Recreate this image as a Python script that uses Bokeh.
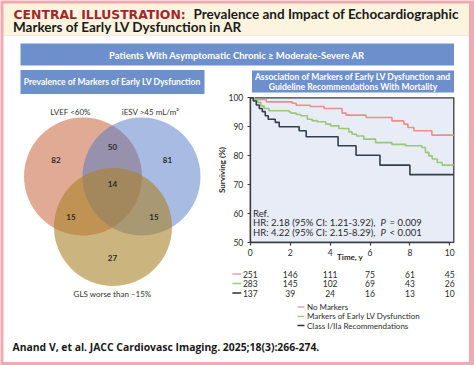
from bokeh.plotting import figure
from bokeh.models import Range1d, LinearAxis, FixedTicker, ColumnDataSource
from bokeh.core.properties import value
from bokeh.embed import file_html
from bokeh.resources import INLINE

# ---------------- data ----------------
title_red = "CENTRAL ILLUSTRATION:"
title_rest_1 = "Prevalence and Impact of Echocardiographic"
title_rest_2 = "Markers of Early LV Dysfunction in AR"
banner_text = "Patients With Asymptomatic Chronic \u2265 Moderate-Severe AR"
left_title = "Prevalence of Markers of Early LV Dysfunction"
right_title = ["Association of Markers of Early LV Dysfunction and",
               "Guideline Recommendations With Mortality"]
footer_text = "Anand V, et al. JACC Cardiovasc Imaging. 2025;18(3):266-274."

venn_labels = ["LVEF <60%", "iESV >45 mL/m\u00b2", "GLS worse than \u201315%"]
venn_only = [82, 81, 27]          # LVEF only, iESV only, GLS only
venn_pairs = [50, 15, 15]         # LVEF&iESV, LVEF&GLS, iESV&GLS
venn_all = [14]

km_groups = ["No Markers", "Markers of Early LV Dysfunction", "Class I/IIa Recommendations"]
t_none = [0, 0.2, 0.8, 2.1, 2.3, 3.0, 3.7, 4.6, 4.8, 5.8, 7.1, 7.7, 7.9, 8.2, 9.1, 10.2]
s_none = [100, 99.4, 98.6, 98.1, 97.4, 97.0, 96.3, 94.7, 94.0, 93.2, 92.0, 90.9, 89.7, 88.6, 87.1, 87.1]
t_markers = [0, 0.2, 0.36, 0.53, 0.69, 0.94, 1.94, 2.03, 2.3, 2.53, 2.86, 3.1, 3.36, 3.78, 4.03,
             4.44, 4.94, 5.1, 5.33, 5.69, 6.28, 7.1, 7.78, 8.6, 8.78, 8.95, 9.12, 9.37, 9.62, 10.2]
s_markers = [100, 99.2, 98.4, 97.2, 96.3, 95.5, 95.1, 94.7, 94.2, 93.8, 92.6, 92.1, 91.7, 90.9, 90.3,
             89.4, 88.2, 87.4, 86.8, 85.7, 84.5, 83.9, 83.4, 82.8, 81.1, 79.9, 78.8, 77.6, 76.7, 76.7]
t_class = [0, 0.15, 0.3, 0.45, 0.6, 0.75, 0.9, 1.25, 1.45, 2.45, 2.8, 4.4, 5.3, 6.5, 8.0, 10.2]
s_class = [100, 98.9, 97.5, 96.3, 95.2, 93.8, 92.6, 91.5, 90.0, 88.6, 86.5, 83.4, 80.1, 76.7, 73.4, 73.4]

x_ticks = [0, 2, 4, 6, 8, 10]
y_ticks = [50, 60, 70, 80, 90, 100]
risk_none = [251, 146, 111, 75, 61, 45]
risk_markers = [283, 145, 102, 69, 43, 26]
risk_class = [137, 39, 24, 16, 13, 10]
hr_ref = "Ref."
hr_text = ["HR: 2.18 (95% CI: 1.21-3.92),", "HR: 4.22 (95% CI: 2.15-8.29),"]
hr_p = ["= 0.009", "< 0.001"]

# ---------------- styles / layout ----------------
FONT = value("Lato")
BLUE = "#6d90cc"
CREAM = "#fcf4de"
PINK = "#f2a9b0"
DARKRED = "#a3262c"
TXT = "#2b2b2b"
KM_COLORS = ["#e8908b", "#9cc67a", "#353d4c"]
LEG_COLORS = ["#dfa8a4", "#9dcc80", "#303030"]
VENN_FILL = ["#c8643c", "#5078c8", "#aa8228"]
VENN_ALPHA = [0.55, 0.5, 0.6]

W, H = 474, 365
KX0_PX, KX_PER = 249.8, 19.95
KY100_PX, KY_PER = 97.3, 2.89
KM_XMAX = 10.2

p = figure(width=W, height=H, x_range=Range1d(0, W), y_range=Range1d(H, 0),
           output_backend="svg", toolbar_location=None, min_border=0,
           min_border_left=0, min_border_right=0, min_border_top=0, min_border_bottom=0,
           x_axis_location=None, y_axis_location=None,
           background_fill_color=PINK, border_fill_color=PINK)
p.grid.visible = False
p.outline_line_color = None

p.extra_x_ranges = {"km_x": Range1d(-KX0_PX / KX_PER, (W - KX0_PX) / KX_PER)}
p.extra_y_ranges = {"km_y": Range1d(100 - (H - KY100_PX) / KY_PER, 100 + KY100_PX / KY_PER)}

# frame, header and body
p.quad(left=[3, 3], right=[468.5, 468.5], top=[3, 35], bottom=[35, 361.5],
       fill_color=[CREAM, "white"], line_color=None)
p.text(x=[13], y=[13.5], text=[title_red], text_font=value("DejaVu Sans"), text_font_style="bold",
       text_font_size="12.4px", text_color=DARKRED, text_baseline="middle", text_align="left")
p.text(x=[193], y=[13.5], text=[title_rest_1], text_font=FONT, text_font_style="bold",
       text_font_size="13.5px", text_color="#1a1a1a", text_baseline="middle", text_align="left")
p.text(x=[12.5], y=[26.5], text=[title_rest_2], text_font=FONT, text_font_style="bold",
       text_font_size="13.5px", text_color="#1a1a1a", text_baseline="middle", text_align="left")

# banners
p.quad(left=[20, 20, 251.5], right=[453.5, 204, 453.5], top=[43, 69.5, 70], bottom=[65, 93.5, 92],
       fill_color=BLUE, line_color=None)
p.text(x=[236.5], y=[54.5], text=[banner_text], text_font=FONT, text_font_style="bold",
       text_font_size="9.5px", text_color="white", text_baseline="middle", text_align="center")
p.text(x=[112], y=[81.5], text=[left_title], text_font=FONT, text_font_style="bold",
       text_font_size="8.6px", text_color="white", text_baseline="middle", text_align="center")
p.text(x=[352.5, 352.5], y=[76.3, 86], text=right_title, text_font=FONT, text_font_style="bold",
       text_font_size="8.6px", text_color="white", text_baseline="middle", text_align="center")

# venn
venn_src = ColumnDataSource(dict(x=[82.5, 141, 112.5], y=[176, 176, 226.5], c=VENN_FILL, a=VENN_ALPHA))
p.circle(x="x", y="y", radius=59, fill_color="c", fill_alpha="a", line_color=None, source=venn_src)
p.text(x=[70, 150, 112], y=[111, 111, 293.5], text=venn_labels, text_font=FONT,
       text_font_size="8px", text_color="#333333", text_baseline="middle", text_align="center")
venn_nums = venn_only + venn_pairs + venn_all
p.text(x=[55.5, 167, 112, 112, 70.5, 153.5, 112], y=[159.5, 159.5, 257.5, 146, 216, 216, 183],
       text=[str(v) for v in venn_nums], text_font=FONT, text_font_style="bold",
       text_font_size="8px", text_color="#2a2a2a", text_baseline="middle", text_align="center")

# KM panel
p.quad(left=[0], right=[KM_XMAX], bottom=[50], top=[100], fill_color="#e8ecf6",
       line_color="#3a3a3a", line_width=1.3, x_range_name="km_x", y_range_name="km_y")
for tt, ss, col in zip([t_none, t_markers, t_class], [s_none, s_markers, s_class], KM_COLORS):
    p.step(x=tt, y=ss, mode="after", line_color=col, line_width=1.6,
           x_range_name="km_x", y_range_name="km_y")

xax = LinearAxis(x_range_name="km_x", y_range_name="km_y", fixed_location=50, bounds=(0, 10),
                 ticker=FixedTicker(ticks=x_ticks), axis_label="Time, y")
yax = LinearAxis(x_range_name="km_x", y_range_name="km_y", fixed_location=0, bounds=(50, 100),
                 ticker=FixedTicker(ticks=y_ticks), axis_label="Surviving (%)")
for ax in (xax, yax):
    ax.axis_line_color = "#3a3a3a"
    ax.axis_line_width = 1.3
    ax.major_tick_line_color = "#3a3a3a"
    ax.major_tick_line_width = 1.2
    ax.major_tick_out = 3
    ax.major_tick_in = 0
    ax.minor_tick_line_color = None
    ax.major_label_text_font = "Lato"
    ax.major_label_text_font_size = "8.5px"
    ax.major_label_text_color = TXT
    ax.axis_label_text_font = "Lato"
    ax.axis_label_text_font_size = "8px"
    ax.axis_label_text_font_style = "bold"
    ax.axis_label_text_color = TXT
    ax.major_label_standoff = 4
xax.axis_label_standoff = -8
yax.axis_label_standoff = -1
p.add_layout(xax, "below")
p.add_layout(yax, "left")

# HR text
HR_FS = "9.5px"
p.text(x=[252.5], y=[212.8], text=[hr_ref], text_font=FONT, text_font_size=HR_FS, text_color=TXT,
       text_baseline="middle", text_align="left")
p.text(x=[252.5, 252.5], y=[222.2, 231.6], text=hr_text, text_font=FONT, text_font_size=HR_FS,
       text_color=TXT, text_baseline="middle", text_align="left")
p.text(x=[380, 380], y=[222.2, 231.6], text=["P", "P"], text_font=FONT, text_font_size=HR_FS,
       text_font_style="italic", text_color=TXT, text_baseline="middle", text_align="left")
p.text(x=[389, 389], y=[222.2, 231.6], text=hr_p, text_font=FONT, text_font_size=HR_FS,
       text_color=TXT, text_baseline="middle", text_align="left")

# number at risk
row_y = [273.5, 283, 292.5]
for risk, ry, lc in zip([risk_none, risk_markers, risk_class], row_y, LEG_COLORS):
    p.text(x=x_ticks, y=[ry] * len(x_ticks), text=[str(v) for v in risk], text_font=FONT,
           text_font_size="8.5px", text_color=TXT, text_baseline="middle", text_align="center",
           x_range_name="km_x")
    p.segment(x0=[-0.9], x1=[-0.45], y0=[ry], y1=[ry], line_color=lc, line_width=1.3,
              x_range_name="km_x")

# legend
leg_y = [306.5, 315.8, 325]
for g, ly, lc in zip(km_groups, leg_y, LEG_COLORS):
    p.segment(x0=[297], x1=[304], y0=[ly], y1=[ly], line_color=lc, line_width=1.3)
    p.text(x=[306.5], y=[ly], text=[g], text_font=FONT, text_font_size="8px", text_color=TXT,
           text_baseline="middle", text_align="left")

# footer
p.text(x=[12], y=[346.5], text=[footer_text], text_font=value("Open Sans"), text_font_style="bold",
       text_font_size="10.4px", text_color="#1a1a1a", text_baseline="middle", text_align="left")

open("out.html", "w").write(file_html(p, INLINE))
